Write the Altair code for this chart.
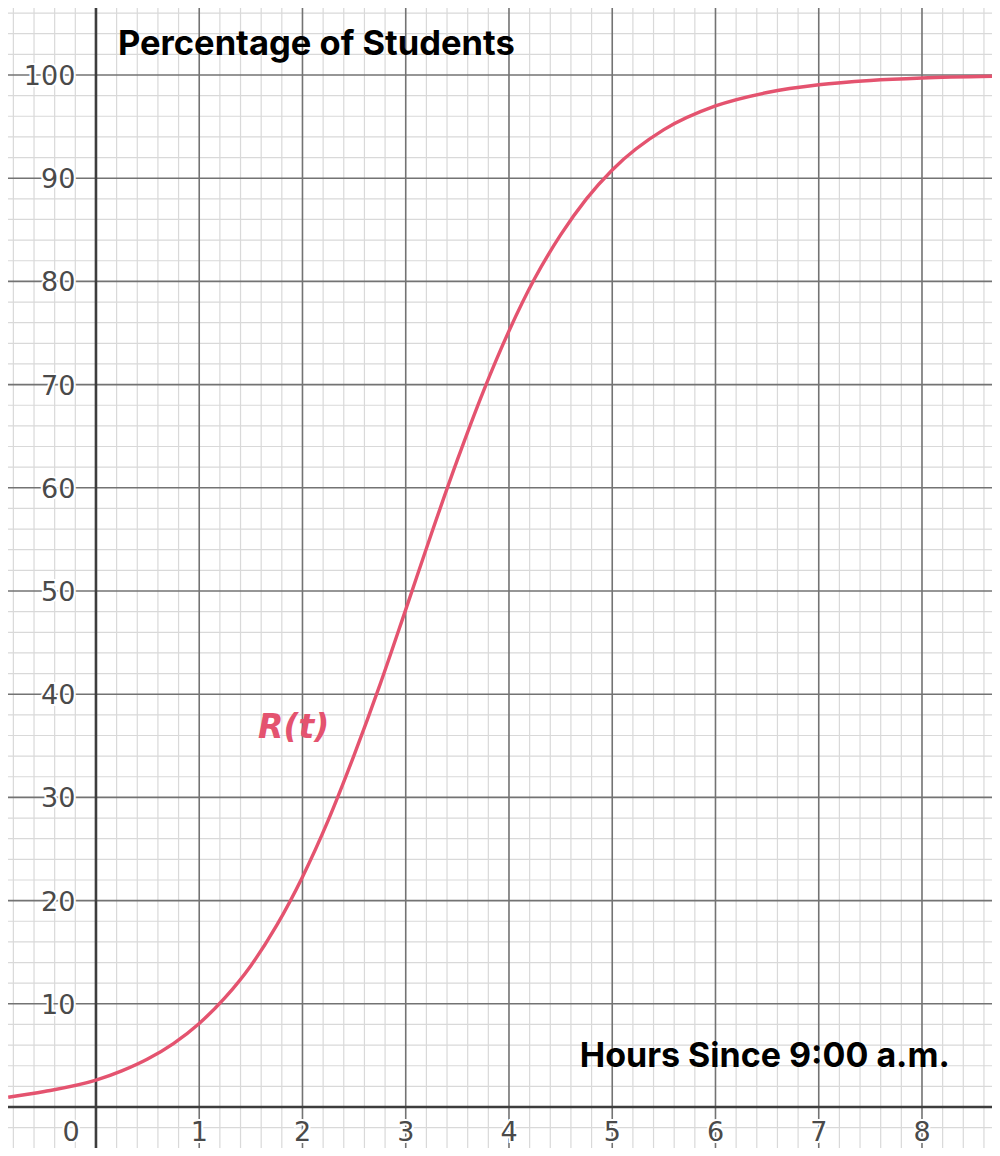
import altair as alt
import pandas as pd

# Curve R(t)
t_vals = [-0.85, -0.5, 0.0, 0.25, 0.5, 0.75, 1.0, 1.25, 1.5, 1.75, 2.0, 2.25, 2.5, 2.75,
          3.0, 3.25, 3.5, 3.75, 4.0, 4.25, 4.5, 4.75, 5.0, 5.5, 6.0, 6.5, 7.0, 7.5, 8.0, 8.7]
r_vals = [0.95, 1.5, 2.6, 3.5, 4.65, 6.15, 8.1, 10.6, 13.7, 17.6, 22.3, 27.8, 34.1, 40.9,
          48.2, 55.6, 62.7, 69.3, 75.2, 80.3, 84.5, 88.0, 90.8, 94.7, 97.0, 98.3, 99.05, 99.47, 99.71, 99.88]

x_major = [1, 2, 3, 4, 5, 6, 7, 8]
y_major = [10, 20, 30, 40, 50, 60, 70, 80, 90, 100]
x_minor = [round(-0.8 + 0.2 * i, 2) for i in range(48)]
x_minor = [v for v in x_minor if abs(v - round(v)) > 1e-6]
y_minor = [v for v in range(-2, 108, 2) if v % 10 != 0]

x_labels = ["1", "2", "3", "4", "5", "6", "7", "8"]
y_labels = ["10", "20", "30", "40", "50", "60", "70", "80", "90", "100"]

W, H = 984, 1140
xs = alt.Scale(domain=[-0.852, 8.678], nice=False, zero=False)
ys = alt.Scale(domain=[-3.97, 106.49], nice=False, zero=False)

def vrules(vals, color, width):
    return alt.Chart(pd.DataFrame({"v": vals})).mark_rule(color=color, strokeWidth=width, clip=True).encode(
        x=alt.X("v:Q", scale=xs, axis=None), y=alt.value(0), y2=alt.value(H))

def hrules(vals, color, width):
    return alt.Chart(pd.DataFrame({"v": vals})).mark_rule(color=color, strokeWidth=width, clip=True).encode(
        y=alt.Y("v:Q", scale=ys, axis=None), x=alt.value(0), x2=alt.value(W))

minor_c = "#d9d9d9"
major_c = "#737373"
axis_c = "#3d3d3d"

layers = [
    vrules(x_minor, minor_c, 1.2),
    hrules(y_minor, minor_c, 1.2),
    vrules(x_major, major_c, 1.6),
    hrules(y_major, major_c, 1.6),
    vrules([0], axis_c, 2.6),
    hrules([0], axis_c, 2.6),
]

lab_font = "DejaVu Sans"
lab_size = 27
lab_color = "#4a4a4a"

xl = pd.DataFrame({"x": x_major, "y": [-2.5] * 8, "t": x_labels})
yl = pd.DataFrame({"x": [-0.2] * 10, "y": [v - 0.2 for v in y_major], "t": y_labels})
zl = pd.DataFrame({"x": [-0.24], "y": [-2.5], "t": ["0"]})

def labels(df, align):
    base = alt.Chart(df)
    halo = base.mark_text(font=lab_font, fontSize=lab_size, align=align, baseline="middle",
                          color="white", stroke="white", strokeWidth=4).encode(
        x=alt.X("x:Q", scale=xs, axis=None), y=alt.Y("y:Q", scale=ys, axis=None), text="t:N")
    fg = base.mark_text(font=lab_font, fontSize=lab_size, align=align, baseline="middle",
                        color=lab_color).encode(
        x=alt.X("x:Q", scale=xs, axis=None), y=alt.Y("y:Q", scale=ys, axis=None), text="t:N")
    return [halo, fg]

layers += labels(xl, "center") + labels(yl, "right") + labels(zl, "center")

curve_c = "#e4536f"
curve = alt.Chart(pd.DataFrame({"t": t_vals, "r": r_vals})).mark_line(
    color=curve_c, strokeWidth=3.4, interpolate="monotone", clip=True).encode(
    x=alt.X("t:Q", scale=xs, axis=None), y=alt.Y("r:Q", scale=ys, axis=None))
layers.append(curve)

def txt(x, y, s, align, font, size, weight, color, style="normal"):
    return alt.Chart(pd.DataFrame({"x": [x], "y": [y], "t": [s]})).mark_text(
        font=font, fontSize=size, fontWeight=weight, fontStyle=style, align=align,
        baseline="middle", color=color).encode(
        x=alt.X("x:Q", scale=xs, axis=None), y=alt.Y("y:Q", scale=ys, axis=None), text="t:N")

layers.append(txt(0.213, 102.9, "Percentage of Students", "left", "Inter", 34.5, "bold", "black"))
layers.append(txt(8.27, 4.84, "Hours Since 9:00 a.m.", "right", "Inter", 34, "bold", "black"))
layers.append(txt(1.569, 36.7, "R(t)", "left", "DejaVu Sans", 33, "bold", curve_c, "italic"))

chart = alt.layer(*layers).properties(
    width=W, height=H, padding=0,
    autosize=alt.AutoSizeParams(type="none"),
).configure_view(stroke=None)

chart.save("out.html", embed_options={"renderer": "svg", "actions": False})
